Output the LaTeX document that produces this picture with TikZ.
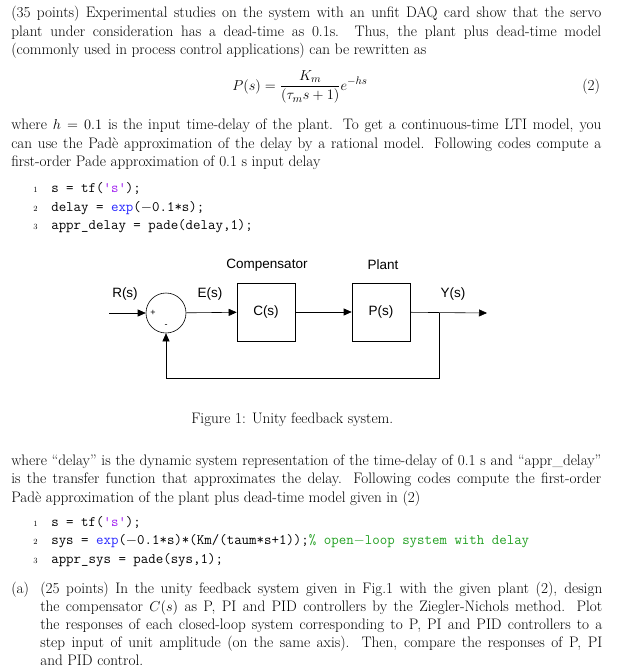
\documentclass[tikz,border=0pt]{standalone}
\usepackage{fontspec}
\usepackage{amsmath}
\newfontfamily\arial{Liberation Sans}
\usetikzlibrary{arrows.meta}
\definecolor{strc}{RGB}{160,32,240}
\definecolor{kwc}{RGB}{40,40,255}
\definecolor{cmc}{RGB}{34,160,34}
\newcommand{\jl}[1]{\makebox[590pt][s]{#1}}
\begin{document}
\begin{tikzpicture}[x=1pt,y=-1pt,
  txt/.style={anchor=base west,inner sep=0pt,font=\fontsize{15.2}{18.5}\selectfont},
  cd/.style={anchor=base west,inner sep=0pt,font=\fontsize{14.5}{18}\ttfamily},
  ln/.style={anchor=base east,inner sep=0pt,font=\fontsize{8}{9}\selectfont},
  blk/.style={draw,minimum width=58pt,minimum height=58pt,font=\arial\fontsize{13.5}{15}\selectfont},
  lab/.style={font=\arial\fontsize{13.5}{15}\selectfont,inner sep=0pt},
  sig/.style={-{Triangle[length=8pt,width=7pt]}},
  line width=0.6pt]
\useasboundingbox (0,0) rectangle (624,667);
\node[txt] (l1) at (11,17) {\jl{(35 points) Experimental studies on the system with an unfit DAQ card show that the servo}};
\node[txt] (l2) at (11,36) {\jl{plant under consideration has a dead-time as 0.1s. Thus, the plant plus dead-time model}};
\node[txt] (l3) at (11,54) {(commonly used in process control applications) can be rewritten as};
\node[txt] (eq) at (232,90) {$\displaystyle P(s)=\frac{K_m}{(\tau_m s+1)}e^{-hs}$};
\node[txt] (eqn) at (582,90) {(2)};
\node[txt] (l4) at (11,129) {\jl{where $h=0.1$ is the input time-delay of the plant. To get a continuous-time LTI model, you}};
\node[txt] (l5) at (11,148) {\jl{can use the Pad\`e approximation of the delay by a rational model. Following codes compute a}};
\node[txt] (l6) at (11,166) {first-order Pade approximation of 0.1 s input delay};
\node[ln] (n1) at (38,192) {1};
\node[ln] (n2) at (38,211) {2};
\node[ln] (n3) at (38,229) {3};
\node[cd] (c1) at (51,192) {s = tf(\textcolor{strc}{'s'});};
\node[cd] (c2) at (51,211) {delay = \textcolor{kwc}{exp}($-$0.1*s);};
\node[cd] (c3) at (51,229) {appr\_delay = pade(delay,1);};
% diagram
\node[circle,draw,minimum size=40pt,inner sep=0pt] (sum) at (166,313) {};
\node[lab,font=\arial\fontsize{9}{10}\selectfont] (plus) at (153,313) {+};
\node[lab,font=\arial\fontsize{9}{10}\selectfont] (minus) at (166,326) {-};
\node[blk] (C) at (266,312) {C(s)};
\node[blk] (P) at (381,312) {P(s)};
\coordinate (in) at (109,313);
\coordinate (out) at (487,313);
\coordinate (tap) at (439,313);
\coordinate (bot) at (439,378);
\coordinate (botl) at (166,378);
\draw[sig] (in) -- (sum);
\draw[sig] (sum) -- (C);
\draw[sig] (C) -- (P);
\draw[sig] (P) -- (out);
\draw[sig] (tap) -- (bot) -- (botl) -- (sum);
\node[lab] (cl) at (267,265) {Compensator};
\node[lab] (pl) at (383,265) {Plant};
\node[lab] (rl) at (125,294) {R(s)};
\node[lab] (el) at (210,294) {E(s)};
\node[lab] (yl) at (453,294) {Y(s)};
\node[txt] (cap) at (191,423) {Figure 1: Unity feedback system.};
\node[txt] (p1) at (11,465) {\jl{where ``delay'' is the dynamic system representation of the time-delay of 0.1 s and ``appr\_delay''}};
\node[txt] (p2) at (11,483) {\jl{is the transfer function that approximates the delay. Following codes compute the first-order}};
\node[txt] (p3) at (11,502) {Pad\`e approximation of the plant plus dead-time model given in (2)};
\node[ln] (m1) at (38,526) {1};
\node[ln] (m2) at (38,544) {2};
\node[ln] (m3) at (38,563) {3};
\node[cd] (d1) at (51,526) {s = tf(\textcolor{strc}{'s'});};
\node[cd] (d2) at (51,544) {sys = \textcolor{kwc}{exp}($-$0.1*s)*(Km/(taum*s+1));\textcolor{cmc}{\% open$-$loop system with delay}};
\node[cd] (d3) at (51,563) {appr\_sys = pade(sys,1);};
\node[txt] (a1) at (11,593) {(a)};
\node[txt] (a2) at (40,593) {\makebox[562pt][s]{(25 points) In the unity feedback system given in Fig.1 with the given plant (2), design}};
\node[txt] (a3) at (40,611) {\makebox[562pt][s]{the compensator $C(s)$ as P, PI and PID controllers by the Ziegler-Nichols method. Plot}};
\node[txt] (a4) at (40,629) {\makebox[562pt][s]{the responses of each closed-loop system corresponding to P, PI and PID controllers to a}};
\node[txt] (a5) at (40,647) {\makebox[562pt][s]{step input of unit amplitude (on the same axis). Then, compare the responses of P, PI}};
\node[txt] (a6) at (40,665) {and PID control.};
\end{tikzpicture}
\end{document}
